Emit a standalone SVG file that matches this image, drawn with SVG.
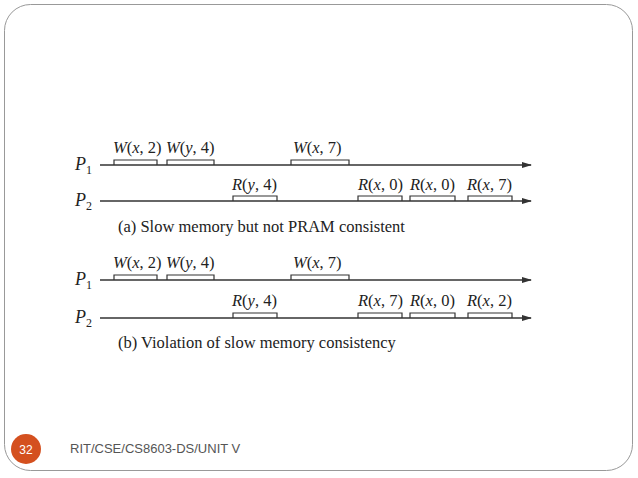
<svg xmlns="http://www.w3.org/2000/svg" width="638" height="478" viewBox="0 0 638 478">
<defs>
<style>
.t{font-family:"Liberation Serif",serif;font-size:16.5px;fill:#222}
.p{font-family:"Liberation Serif",serif;font-size:18px;font-style:italic;fill:#222}
.ln{stroke:#333;stroke-width:1.3;fill:none}
.bx{stroke:#333;stroke-width:1.2;fill:none}
</style>
<marker id="ar" viewBox="0 0 10 6" refX="9" refY="3" markerWidth="8" markerHeight="5" orient="auto"><path d="M0,0L10,3L0,6z" fill="#333"/></marker>
</defs>
<rect x="4.5" y="4.5" width="628" height="466" rx="26" fill="#fff" stroke="#999" stroke-width="1"/>
<g id="connectors">
<line class="ln" x1="100" y1="165" x2="531" y2="165" marker-end="url(#ar)"/>
<line class="ln" x1="100" y1="201" x2="531" y2="201" marker-end="url(#ar)"/>
<line class="ln" x1="100" y1="280" x2="531" y2="280" marker-end="url(#ar)"/>
<line class="ln" x1="100" y1="318" x2="531" y2="318" marker-end="url(#ar)"/>
</g>
<g id="diagA">
<text class="p" x="75" y="170">P<tspan font-size="12" font-style="normal" dy="4">1</tspan></text>
<text class="p" x="75" y="206">P<tspan font-size="12" font-style="normal" dy="4">2</tspan></text>
<path class="bx" d="M114,165V160H157V165M167,165V160H214V165M291,165V160H349V165"/>
<path class="bx" d="M233,201V196H277V201M358,201V196H402V201M410,201V196H455V201M468,201V196H512V201"/>
<text class="t" x="113" y="153"><tspan font-style="italic">W</tspan>(<tspan font-style="italic">x</tspan>, 2)</text>
<text class="t" x="166" y="153"><tspan font-style="italic">W</tspan>(<tspan font-style="italic">y</tspan>, 4)</text>
<text class="t" x="293" y="153"><tspan font-style="italic">W</tspan>(<tspan font-style="italic">x</tspan>, 7)</text>
<text class="t" x="232" y="190"><tspan font-style="italic">R</tspan>(<tspan font-style="italic">y</tspan>, 4)</text>
<text class="t" x="358" y="190"><tspan font-style="italic">R</tspan>(<tspan font-style="italic">x</tspan>, 0)</text>
<text class="t" x="410" y="190"><tspan font-style="italic">R</tspan>(<tspan font-style="italic">x</tspan>, 0)</text>
<text class="t" x="467" y="190"><tspan font-style="italic">R</tspan>(<tspan font-style="italic">x</tspan>, 7)</text>
<text class="t" x="118" y="232">(a) Slow memory but not PRAM consistent</text>
</g>
<g id="diagB">
<text class="p" x="75" y="285">P<tspan font-size="12" font-style="normal" dy="4">1</tspan></text>
<text class="p" x="75" y="323">P<tspan font-size="12" font-style="normal" dy="4">2</tspan></text>
<path class="bx" d="M114,280V275H157V280M167,280V275H214V280M291,280V275H349V280"/>
<path class="bx" d="M233,318V313H277V318M358,318V313H402V318M410,318V313H455V318M468,318V313H512V318"/>
<text class="t" x="113" y="268"><tspan font-style="italic">W</tspan>(<tspan font-style="italic">x</tspan>, 2)</text>
<text class="t" x="166" y="268"><tspan font-style="italic">W</tspan>(<tspan font-style="italic">y</tspan>, 4)</text>
<text class="t" x="293" y="268"><tspan font-style="italic">W</tspan>(<tspan font-style="italic">x</tspan>, 7)</text>
<text class="t" x="232" y="306"><tspan font-style="italic">R</tspan>(<tspan font-style="italic">y</tspan>, 4)</text>
<text class="t" x="358" y="306"><tspan font-style="italic">R</tspan>(<tspan font-style="italic">x</tspan>, 7)</text>
<text class="t" x="410" y="306"><tspan font-style="italic">R</tspan>(<tspan font-style="italic">x</tspan>, 0)</text>
<text class="t" x="467" y="306"><tspan font-style="italic">R</tspan>(<tspan font-style="italic">x</tspan>, 2)</text>
<text class="t" x="118" y="348">(b) Violation of slow memory consistency</text>
</g>
<g id="footer">
<circle cx="26" cy="449" r="15" fill="#D4501F"/>
<text x="26" y="454" text-anchor="middle" font-family="Liberation Sans,sans-serif" font-size="12" fill="#fff">32</text>
<text x="70" y="453" font-family="Liberation Sans,sans-serif" font-size="13" fill="#555">RIT/CSE/CS8603-DS/UNIT V</text>
</g>
</svg>
